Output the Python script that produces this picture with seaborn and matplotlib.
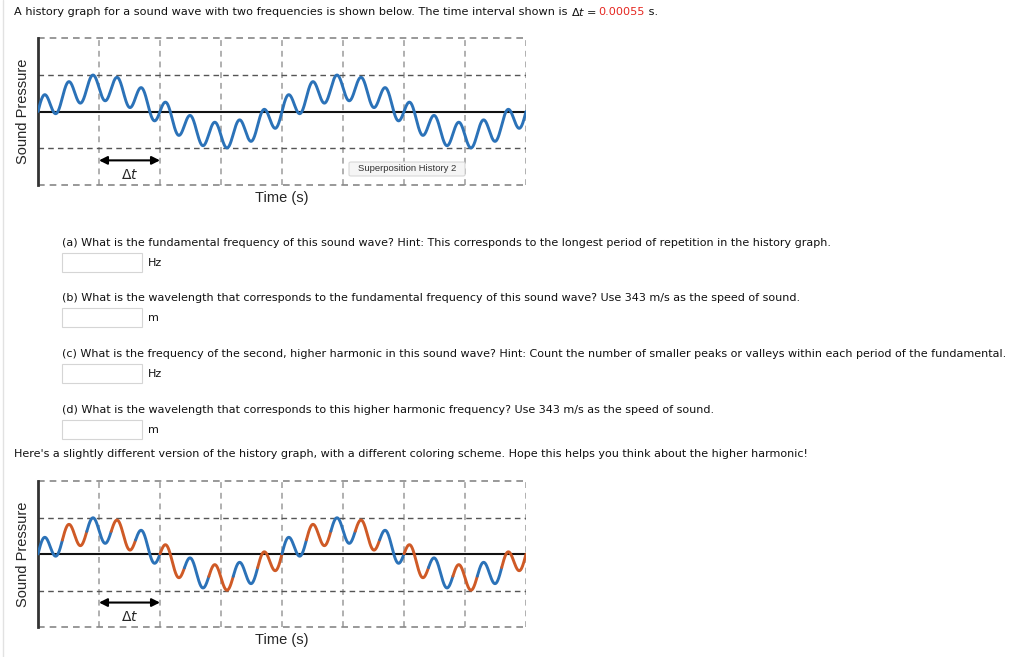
import numpy as np
import pandas as pd
import matplotlib.pyplot as plt
import matplotlib.patches as mpatches
from matplotlib.lines import Line2D
import seaborn as sns

# wave (grid cell = delta t)
delta_t = 0.00055
n_cells = 8
fund_cells = 4          # fundamental repeats every 4 cells
harmonic = 10           # 10 small peaks per fundamental period
amp_fund = 0.65
amp_harm = 0.35
blue = "#2b72b8"
orange = "#cf5a26"

header = "A history graph for a sound wave with two frequencies is shown below. The time interval shown is "
questions = [
    "(a) What is the fundamental frequency of this sound wave? Hint: This corresponds to the longest period of repetition in the history graph.",
    "(b) What is the wavelength that corresponds to the fundamental frequency of this sound wave? Use 343 m/s as the speed of sound.",
    "(c) What is the frequency of the second, higher harmonic in this sound wave? Hint: Count the number of smaller peaks or valleys within each period of the fundamental.",
    "(d) What is the wavelength that corresponds to this higher harmonic frequency? Use 343 m/s as the speed of sound.",
]
units = ["Hz", "m", "Hz", "m"]
second_intro = "Here's a slightly different version of the history graph, with a different coloring scheme. Hope this helps you think about the higher harmonic!"

W, H = 1024, 657
sns.set_style("white")
plt.rcParams['font.family'] = ['DejaVu Sans']
fig = plt.figure(figsize=(W / 100, H / 100), dpi=100)


def fx(x):
    return x / W


def fy(y):
    return 1 - y / H


T1 = fund_cells * delta_t
t = np.linspace(0, n_cells * delta_t, 4000)
p = amp_fund * np.sin(2 * np.pi * t / T1) + amp_harm * np.sin(2 * np.pi * harmonic * t / T1)
wave = pd.DataFrame({"t": t, "p": p})


def frame(ax):
    xmax = n_cells * delta_t
    ax.set_xlim(0, xmax)
    ax.set_ylim(-2, 2)
    for k in range(1, n_cells + 1):
        ax.axvline(k * delta_t, color="#b0b0b0", lw=1.4, ls=(0, (3, 2.5)), zorder=1)
    for yv in (-1, 1):
        ax.axhline(yv, color="#555555", lw=1.0, ls=(0, (4, 3)), zorder=1)
    for yv in (-2, 2):
        ax.axhline(yv, color="#888888", lw=1.2, ls=(0, (4, 3)), zorder=1, clip_on=False)
    ax.axhline(0, color="#111111", lw=1.5, zorder=2)
    for s in ["top", "right", "bottom"]:
        ax.spines[s].set_visible(False)
    ax.spines["left"].set_color("#333333")
    ax.spines["left"].set_linewidth(2)
    ax.set_xticks([])
    ax.set_yticks([])
    ax.annotate("", xy=(delta_t, -1.33), xytext=(2 * delta_t, -1.33),
                arrowprops=dict(arrowstyle="<|-|>", color="black", lw=1.5, mutation_scale=12,
                                shrinkA=0, shrinkB=0))
    ax.text(1.5 * delta_t, -1.72, r"$\Delta t$", ha="center", va="center", fontsize=10)


def labels(ax):
    ax.set_xlabel("Time (s)", fontsize=10.5, family="Liberation Sans", labelpad=4)
    ax.set_ylabel("Sound Pressure", fontsize=10.5, family="Liberation Sans", labelpad=6)
    ax.xaxis.label.set_visible(True)
    ax.yaxis.label.set_visible(True)


# first graph
ax1 = fig.add_axes([fx(38), fy(185), fx(488), 147 / H])
frame(ax1)
sns.lineplot(data=wave, x="t", y="p", ax=ax1, color=blue, lw=2.1, zorder=3)
labels(ax1)
box = mpatches.FancyBboxPatch((fx(349), fy(176)), fx(116), 14 / H,
                              boxstyle="round,pad=0,rounding_size=0.002",
                              transform=fig.transFigure, facecolor="#f5f5f5",
                              edgecolor="#d8d8d8", lw=0.8)
fig.add_artist(box)
fig.text(fx(407), fy(168.5), "Superposition History 2", ha="center", va="center",
         fontsize=6.8, color="#333333", family="Liberation Sans")

# second graph, each harmonic period coloured alternately
seg = np.minimum((t / (T1 / harmonic)).astype(int), n_cells // fund_cells * harmonic - 1)
parts = []
for k in np.unique(seg):
    idx = np.where(seg == k)[0]
    idx = np.append(idx, min(idx[-1] + 1, len(t) - 1))
    part = wave.iloc[idx].copy()
    part["seg"] = k
    parts.append(part)
wave2 = pd.concat(parts, ignore_index=True)
pal = {k: (blue if k % 2 == 0 else orange) for k in np.unique(seg)}

ax2 = fig.add_axes([fx(38), fy(627), fx(488), 146 / H])
frame(ax2)
sns.lineplot(data=wave2, x="t", y="p", hue="seg", palette=pal, ax=ax2, lw=2.1,
             legend=False, zorder=3, estimator=None, sort=False)
labels(ax2)

# page text
fs = 8.0
fig.canvas.draw()
r = fig.canvas.get_renderer()
t1 = fig.text(fx(14), fy(12), header, fontsize=8.1, va="center", color="#111111")
bb = t1.get_window_extent(r)
t2 = fig.text(bb.x1 / W, fy(12), r"$\Delta t$ = ", fontsize=8.1, va="center", color="#111111")
bb = t2.get_window_extent(r)
t3 = fig.text(bb.x1 / W, fy(12), "0.00055", fontsize=8.1, va="center", color="#e5261f")
bb = t3.get_window_extent(r)
fig.text(bb.x1 / W, fy(12), " s.", fontsize=8.1, va="center", color="#111111")

q_y = [243, 298, 354, 410]
for q, u, y in zip(questions, units, q_y):
    fig.text(fx(62), fy(y), q, fontsize=fs, va="center", color="#111111")
    fig.add_artist(mpatches.Rectangle((fx(62), fy(y + 29)), fx(80), 19 / H,
                                      transform=fig.transFigure, facecolor="white",
                                      edgecolor="#d5d5d5", lw=0.8))
    fig.text(fx(148), fy(y + 20), u, fontsize=fs, va="center", color="#111111")

fig.text(fx(14), fy(454), second_intro, fontsize=fs, va="center", color="#111111")
fig.add_artist(Line2D([fx(2.5), fx(2.5)], [0, 1], transform=fig.transFigure,
                      color="#e2e2e2", lw=1))

fig.savefig("out.png", dpi=100, facecolor="white")
